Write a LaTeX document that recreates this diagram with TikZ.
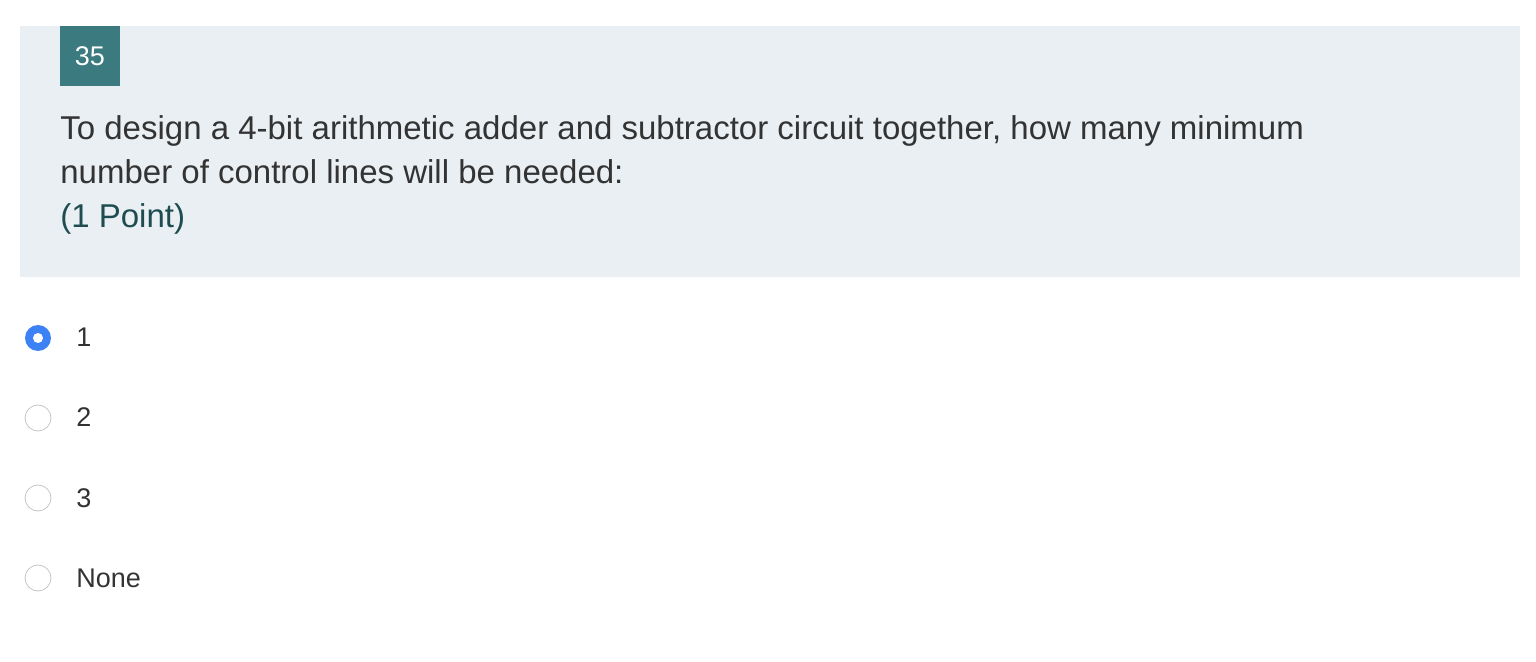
\documentclass[tikz,border=0pt]{standalone}
\usepackage{fontspec}
\setmainfont{Liberation Sans}
\definecolor{panel}{HTML}{E9EFF2}
\definecolor{badge}{HTML}{3B7B7F}
\definecolor{txt}{HTML}{333333}
\definecolor{pt}{HTML}{1F4C50}
\definecolor{radioblue}{HTML}{3D82F4}
\begin{document}
\begin{tikzpicture}[x=0.5pt,y=-0.5pt,
  qtext/.style={anchor=base west,inner sep=0,text=txt,font=\fontsize{16.5pt}{20pt}\selectfont},
  otext/.style={anchor=base west,inner sep=0,text=txt,font=\fontsize{13.5pt}{16pt}\selectfont},
  radio/.style={circle,draw=gray!45,fill=white,minimum size=13pt,inner sep=0}]
\useasboundingbox (0,0) rectangle (1536,662);
\fill[panel] (20,26) rectangle (1520,277);
\fill[badge] (60,26) rectangle (120,86);
\node[text=white,font=\fontsize{13.5pt}{16pt}\selectfont] (num) at (90,56) {35};
\node[qtext] (q1) at (60,140) {To design a 4-bit arithmetic adder and subtractor circuit together, how many minimum};
\node[qtext] (q2) at (60,184) {number of control lines will be needed:};
\node[qtext,text=pt] (q3) at (60,228) {(1 Point)};
\node[circle,fill=radioblue,minimum size=13pt,inner sep=0] (r1) at (38,338) {};
\node[circle,fill=white,minimum size=5pt,inner sep=0] at (r1) {};
\node[radio] (r2) at (38,418) {};
\node[radio] (r3) at (38,498) {};
\node[radio] (r4) at (38,578) {};
\node[otext] (o1) at (76,347) {1};
\node[otext] (o2) at (76,427) {2};
\node[otext] (o3) at (76,507) {3};
\node[otext] (o4) at (76,587) {None};
\end{tikzpicture}
\end{document}
